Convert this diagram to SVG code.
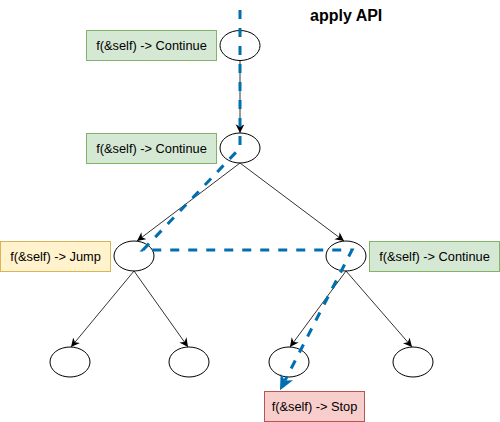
<svg xmlns="http://www.w3.org/2000/svg" width="500" height="422" viewBox="0 0 500 422">
<style>
.node ellipse{fill:#fff;stroke:#000;stroke-width:1}
.lbl{font-family:"Liberation Sans",Arial,sans-serif;font-size:12.8px;fill:#000;text-anchor:middle}
.green{fill:#d5e8d4;stroke:#82b366}
.yellow{fill:#fff2cc;stroke:#d6b656}
.red{fill:#f8cecc;stroke:#b85450}
.edge{fill:none;stroke:#333;stroke-width:1;marker-end:url(#arr)}
.flow{fill:none;stroke:#006eaf;stroke-width:3;stroke-dasharray:9 9;marker-end:url(#barr)}
.title{font-family:"Liberation Sans",Arial,sans-serif;font-size:16px;font-weight:bold;fill:#000}
</style>
<defs>
<marker id="arr" markerUnits="userSpaceOnUse" markerWidth="10" markerHeight="10" viewBox="0 0 8 8" refX="7" refY="3.5" orient="auto">
<path d="M0,0 L7,3.5 L0,7 L2,3.5 Z" fill="#000"/>
</marker>
<marker id="barr" markerUnits="userSpaceOnUse" markerWidth="16" markerHeight="16" viewBox="0 0 16 16" refX="4" refY="7" orient="auto">
<path d="M0,0 L15,7 L0,14 L4,7 Z" fill="#006eaf"/>
</marker>
</defs>
<text class="title" x="310" y="21">apply API</text>
<g id="connectors">
<line class="edge" x1="240" y1="60.5" x2="240" y2="133"/>
<line class="edge" x1="240" y1="163" x2="137" y2="241"/>
<line class="edge" x1="240" y1="163" x2="344" y2="241"/>
<line class="edge" x1="134" y1="271" x2="71" y2="347"/>
<line class="edge" x1="134" y1="271" x2="188" y2="347"/>
<line class="edge" x1="346" y1="271" x2="290" y2="347"/>
<line class="edge" x1="346" y1="271" x2="412" y2="347"/>
</g>
<g id="n1" class="node"><ellipse cx="240" cy="45.5" rx="20" ry="15"/></g>
<g id="n2" class="node"><ellipse cx="240" cy="148" rx="20" ry="15"/></g>
<g id="n3" class="node"><ellipse cx="134" cy="256" rx="20" ry="15"/></g>
<g id="n4" class="node"><ellipse cx="346" cy="256" rx="20" ry="15"/></g>
<g id="n5" class="node"><ellipse cx="70" cy="362" rx="20" ry="15"/></g>
<g id="n6" class="node"><ellipse cx="189" cy="362" rx="20" ry="15"/></g>
<g id="n7" class="node"><ellipse cx="289" cy="362" rx="20" ry="15"/></g>
<g id="n8" class="node"><ellipse cx="413" cy="362" rx="20" ry="15"/></g>
<g id="l1"><rect class="green" x="86.5" y="30.5" width="130" height="30"/><text class="lbl" x="151.5" y="50">f(&amp;self) -&gt; Continue</text></g>
<g id="l2"><rect class="green" x="86.5" y="133.5" width="130" height="30"/><text class="lbl" x="151.5" y="153">f(&amp;self) -&gt; Continue</text></g>
<g id="l3"><rect class="yellow" x="0.5" y="241.5" width="110" height="30"/><text class="lbl" x="55.5" y="261">f(&amp;self) -&gt; Jump</text></g>
<g id="l4"><rect class="green" x="369.5" y="241.5" width="130" height="30"/><text class="lbl" x="434.5" y="261">f(&amp;self) -&gt; Continue</text></g>
<g id="l5"><rect class="red" x="264.5" y="391.5" width="100" height="30"/><text class="lbl" x="314.5" y="411">f(&amp;self) -&gt; Stop</text></g>
<g id="flow">
<path class="flow" d="M240,10 L240,148 L143,250 L352,250 L285,380.5"/>
</g>
</svg>
